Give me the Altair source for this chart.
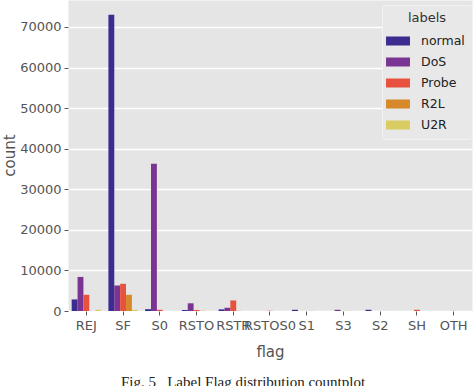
import altair as alt
import pandas as pd

flags = ["REJ", "SF", "S0", "RSTO", "RSTR", "RSTOS0", "S1", "S3", "S2", "SH", "OTH"]
labels = ["normal", "DoS", "Probe", "R2L", "U2R"]
normal = [2850, 73000, 450, 250, 400, 0, 300, 0, 300, 0, 0]
dos = [8400, 6300, 36300, 1900, 800, 0, 0, 300, 0, 0, 0]
probe = [4000, 6700, 300, 250, 2600, 60, 0, 0, 0, 300, 30]
r2l = [0, 4000, 0, 50, 30, 0, 20, 20, 10, 0, 0]
u2r = [300, 300, 0, 0, 0, 0, 0, 0, 0, 0, 0]
colors = ["#3a2d8f", "#7a3592", "#e8513d", "#d7882a", "#d9cc63"]
y_ticks = [0, 10000, 20000, 30000, 40000, 50000, 60000, 70000]
caption_text = "Fig. 5\u00a0\u00a0\u00a0Label Flag distribution countplot"

series = [normal, dos, probe, r2l, u2r]
rows = []
for i, f in enumerate(flags):
    for lab, vals in zip(labels, series):
        rows.append({"flag": f, "labels": lab, "count": vals[i]})
df = pd.DataFrame(rows)

bars = alt.Chart(df).mark_bar().encode(
    x=alt.X(
        "flag:N",
        sort=flags,
        scale=alt.Scale(paddingInner=0.2, paddingOuter=0.1),
        axis=alt.Axis(
            title="flag", labelAngle=0, grid=False, domain=False,
            tickColor="#555555", tickSize=4, labelPadding=4,
            labelColor="#555555", labelFontSize=13, labelFont="DejaVu Sans",
            titleFont="DejaVu Sans", titleFontSize=15, titleFontWeight="normal",
            titleColor="#555555", titleY=45, titleBaseline="alphabetic",
        ),
    ),
    xOffset=alt.XOffset("labels:N", sort=labels, scale=alt.Scale(paddingInner=0, paddingOuter=0)),
    y=alt.Y(
        "count:Q",
        scale=alt.Scale(domain=[0, 76650], nice=False),
        axis=alt.Axis(
            title="count", values=y_ticks, format="d", grid=True,
            gridColor="white", gridWidth=1.5, domain=False,
            tickColor="#555555", tickSize=4, labelPadding=3,
            labelColor="#555555", labelFontSize=13, labelFont="DejaVu Sans",
            titleFont="DejaVu Sans", titleFontSize=15, titleFontWeight="normal",
            titleColor="#555555", titleX=-54, titleY=155, titleBaseline="alphabetic",
            titleAngle=270, titleAlign="center",
        ),
    ),
    color=alt.Color(
        "labels:N",
        sort=labels,
        scale=alt.Scale(domain=labels, range=colors),
        legend=alt.Legend(
            title="labels", orient="none", legendX=314, legendY=5,
            fillColor="#E8E8E8", strokeColor="#F2F2F2", cornerRadius=3,
            padding=7, titleAnchor="middle", titleFont="DejaVu Sans",
            titleFontSize=13, titleFontWeight="normal", titleColor="#333333",
            titlePadding=7,
            labelFont="DejaVu Sans", labelFontSize=12.5, labelColor="#222222",
            symbolType="M-1.33,-0.5L1.33,-0.5L1.33,0.5L-1.33,0.5Z",
            symbolSize=324, symbolStrokeWidth=0, labelOffset=14, rowPadding=5,
        ),
    ),
)

caption = alt.Chart(pd.DataFrame({"t": [caption_text]})).mark_text(
    font="Liberation Serif", fontSize=15, color="#222222", align="center", baseline="alphabetic"
).encode(text="t:N", x=alt.value(175), y=alt.value(387))

chart = alt.layer(bars, caption).properties(
    width=404, height=311,
    autosize=alt.AutoSizeParams(type="none"),
    padding={"left": 68, "top": 0, "right": 2, "bottom": 80},
).configure_view(fill="#E5E5E5", stroke="transparent")

chart.save("out.html", embed_options={"renderer": "svg", "actions": False})
